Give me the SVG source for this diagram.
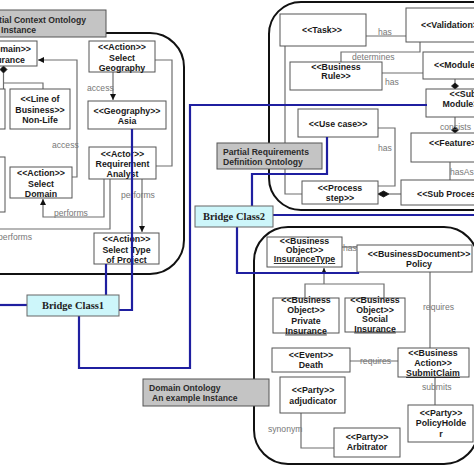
<svg xmlns="http://www.w3.org/2000/svg" width="474" height="474" viewBox="0 0 474 474">
<style>
.panel{fill:none;stroke:#111;stroke-width:2}
.plabel rect{fill:#c4c4c4;stroke:#555;stroke-width:1}
.plabel text{font-family:"Liberation Sans",Arial,sans-serif;font-weight:bold;font-size:8.6px;fill:#2a2a2a}
.node rect{fill:#fff;stroke:#555;stroke-width:1}
.node text{font-family:"Liberation Sans",Arial,sans-serif;font-weight:bold;font-size:8.8px;fill:#1a1a1a;text-anchor:middle}
.node text.s{text-anchor:start}
.node text.e{text-anchor:end}
.u{text-decoration:underline}
.conn path{fill:none;stroke:#6e6e6e;stroke-width:1.2}
.conn path.d{fill:#111;stroke:#111;stroke-width:0.8}
.lbl{font-family:"Liberation Sans",Arial,sans-serif;font-size:8.6px;fill:#777}
.blue path{fill:none;stroke:#1f1fa0;stroke-width:2.2}
.bridge rect{fill:#cdf6fa;stroke:#666;stroke-width:1}
.bridge text{font-family:"Liberation Serif","Times New Roman",serif;font-weight:bold;font-size:10.5px;fill:#222;text-anchor:middle}
</style>
<defs>
<marker id="arr" viewBox="0 0 6 6" refX="6" refY="3" markerWidth="6" markerHeight="6" orient="auto" markerUnits="userSpaceOnUse">
<path d="M0,0 L6,3 L0,6 Z" fill="#111"/>
</marker>
</defs>
<rect x="0" y="0" width="474" height="474" fill="#fff"/>

<g id="panels">
<rect class="panel" x="-40" y="33" width="224" height="241" rx="34"/>
<rect class="panel" x="269" y="2" width="240" height="208" rx="32"/>
<rect class="panel" x="254" y="227" width="224" height="237" rx="34"/>
</g>

<g id="connectors" class="conn">
<path d="M113,72 V100" marker-end="url(#arr)"/>
<path d="M155,60 H172 V166 H156"/>
<path d="M72,177 H77 V60 H38" marker-end="url(#arr)"/>
<path d="M104,179 V217 H43 V199" marker-end="url(#arr)"/>
<path d="M110,179 V229 H-5"/>
<path d="M142,179 V232" marker-end="url(#arr)"/>
<path d="M3.5,73 V89 M3.5,83 H43 V89"/>
<path class="d" d="M3.5,66 L7,69.5 L3.5,73 L0,69.5 Z"/>
<path d="M366,36 H406"/>
<path d="M420,42 V52 H341 V62"/>
<path d="M382,73 H423"/>
<path d="M455,79 V83"/>
<path class="d" d="M455,83 L458.5,86 L455,89 L451.5,86 Z"/>
<path d="M455,117 V127"/>
<path class="d" d="M455,127 L458.5,130 L455,133 L451.5,130 Z"/>
<path d="M450,162 V180"/>
<path d="M378,128 H395 V186 H378"/>
<path d="M285,46 V194 H302"/>
<path d="M401,194 H389"/>
<path class="d" d="M378,194 L383.5,191 L389,194 L383.5,197 Z"/>
<path d="M342,247 H357"/>
<path d="M324,284 V268" marker-end="url(#arr)"/>
<path d="M305,298 V284 H384 V298"/>
<path d="M430,272 V348"/>
<path d="M350,361 H398"/>
<path d="M435,377 V405"/>
<path d="M301,413 V448 H334"/>
</g>

<g id="ctx-domain" class="node"><rect x="-20" y="41" width="57" height="25"/><text class="e" x="31" y="52">&lt;&lt;Domain&gt;&gt;</text><text class="e" x="25" y="63">Insurance</text></g>
<g id="ctx-box1" class="node"><rect x="-20" y="89" width="25" height="40"/></g>
<g id="ctx-lob" class="node"><rect x="10" y="89" width="60" height="40"/><text x="40" y="102">&lt;&lt;Line of</text><text x="40" y="112.5">Business&gt;&gt;</text><text x="40" y="123">Non-Life</text></g>
<g id="ctx-selgeo" class="node"><rect x="89" y="41" width="66" height="31"/><text x="122" y="50">&lt;&lt;Action&gt;&gt;</text><text x="122" y="60.5">Select</text><text x="122" y="70.5">Geography</text></g>
<g id="ctx-asia" class="node"><rect x="88" y="101" width="78" height="28"/><text x="127" y="113.5">&lt;&lt;Geography&gt;&gt;</text><text x="127" y="124">Asia</text></g>
<g id="ctx-ra" class="node"><rect x="89" y="147" width="67" height="32"/><text x="122.5" y="157">&lt;&lt;Actor&gt;&gt;</text><text x="122.5" y="166.5">Requirement</text><text x="122.5" y="176.5">Analyst</text></g>
<g id="ctx-seldom" class="node"><rect x="10" y="167" width="62" height="31"/><text x="41" y="176">&lt;&lt;Action&gt;&gt;</text><text x="41" y="186.5">Select</text><text x="41" y="196.5">Domain</text></g>
<g id="ctx-box2" class="node"><rect x="-20" y="157" width="25" height="55"/></g>
<g id="ctx-seltype" class="node"><rect x="94" y="233" width="65" height="31"/><text x="126.5" y="242">&lt;&lt;Action&gt;&gt;</text><text x="126.5" y="252.5">Select Type</text><text x="126.5" y="263">of Project</text></g>

<g id="req-task" class="node"><rect x="280" y="14" width="86" height="32"/><text x="322" y="33">&lt;&lt;Task&gt;&gt;</text></g>
<g id="req-validation" class="node"><rect x="406" y="8" width="100" height="34"/><text class="s" x="421" y="28">&lt;&lt;Validation&gt;&gt;</text></g>
<g id="req-brule" class="node"><rect x="290" y="62" width="92" height="28"/><text x="336" y="69.5">&lt;&lt;Business</text><text x="336" y="79">Rule&gt;&gt;</text></g>
<g id="req-module" class="node"><rect x="423" y="52" width="90" height="27"/><text class="s" x="434" y="68">&lt;&lt;Module&gt;&gt;</text></g>
<g id="req-submodule" class="node"><rect x="426" y="89" width="80" height="28"/><text x="463" y="96.5">&lt;&lt;Sub</text><text x="463" y="107">Module&gt;&gt;</text></g>
<g id="req-feature" class="node"><rect x="411" y="133" width="90" height="29"/><text class="s" x="429" y="146">&lt;&lt;Feature&gt;&gt;</text></g>
<g id="req-usecase" class="node"><rect x="298" y="109" width="80" height="28"/><text x="338" y="127">&lt;&lt;Use case&gt;&gt;</text></g>
<g id="req-process" class="node"><rect x="302" y="181" width="76" height="23"/><text x="340" y="190.5">&lt;&lt;Process</text><text x="340" y="201">step&gt;&gt;</text></g>
<g id="req-subprocess" class="node"><rect x="401" y="180" width="110" height="25"/><text class="s" x="417" y="197">&lt;&lt;Sub Process&gt;&gt;</text></g>

<g id="dom-instype" class="node"><rect x="267" y="237" width="75" height="30"/><text x="304.5" y="244">&lt;&lt;Business</text><text x="304.5" y="253">Object&gt;&gt;</text><text class="u" x="304.5" y="262">InsuranceType</text></g>
<g id="dom-policy" class="node"><rect x="357" y="245" width="115" height="27"/><text x="419" y="257">&lt;&lt;BusinessDocument&gt;&gt;</text><text x="419" y="267">Policy</text></g>
<g id="dom-private" class="node"><rect x="273" y="298" width="66" height="35"/><text x="306" y="303">&lt;&lt;Business</text><text x="306" y="313">Object&gt;&gt;</text><text x="306" y="323.5">Private</text><text class="u" x="306" y="333.5">Insurance</text></g>
<g id="dom-social" class="node"><rect x="345" y="298" width="60" height="34"/><text x="375" y="303">&lt;&lt;Business</text><text x="375" y="312.5">Object&gt;&gt;</text><text x="375" y="322">Social</text><text class="u" x="375" y="331.5">Insurance</text></g>
<g id="dom-death" class="node"><rect x="272" y="348" width="78" height="24"/><text x="311" y="358">&lt;&lt;Event&gt;&gt;</text><text x="311" y="368">Death</text></g>
<g id="dom-submit" class="node"><rect x="398" y="348" width="71" height="29"/><text x="433" y="356">&lt;&lt;Business</text><text x="433" y="366">Action&gt;&gt;</text><text class="u" x="433" y="376">SubmitClaim</text></g>
<g id="dom-adjudicator" class="node"><rect x="280" y="377" width="65" height="36"/><text x="313" y="393">&lt;&lt;Party&gt;&gt;</text><text x="313" y="403.5">adjudicator</text></g>
<g id="dom-policyholder" class="node"><rect x="408" y="405" width="65" height="37"/><text x="441" y="416">&lt;&lt;Party&gt;&gt;</text><text x="441" y="426">PolicyHolde</text><text x="441" y="437">r</text></g>
<g id="dom-arbitrator" class="node"><rect x="334" y="428" width="66" height="29"/><text x="367" y="440">&lt;&lt;Party&gt;&gt;</text><text x="367" y="450">Arbitrator</text></g>

<g id="labels">
<text class="lbl" x="87" y="91">access</text>
<text class="lbl" x="52" y="148">access</text>
<text class="lbl" x="54" y="216">performs</text>
<text class="lbl" x="32" y="240" text-anchor="end">performs</text>
<text class="lbl" x="121" y="198">performs</text>
<text class="lbl" x="378" y="35">has</text>
<text class="lbl" x="352" y="60">determines</text>
<text class="lbl" x="385" y="85">has</text>
<text class="lbl" x="440" y="130">consists</text>
<text class="lbl" x="450" y="175">hasAs</text>
<text class="lbl" x="378" y="151">has</text>
<text class="lbl" x="343" y="251">has</text>
<text class="lbl" x="423" y="310">requires</text>
<text class="lbl" x="360" y="364">requires</text>
<text class="lbl" x="422" y="390">submits</text>
<text class="lbl" x="268" y="432">synonym</text>
</g>

<g id="blue-links" class="blue">
<path d="M132,129 V310 H119"/>
<path d="M106,264 V295"/>
<path d="M-5,305 H27"/>
<path d="M79,316 V368 H190 V105 H427"/>
<path d="M252,206 V174 H327 V137"/>
<path d="M273,215 H480"/>
<path d="M237,227 V273 H358 V272"/>
</g>

<g id="label-context" class="plabel"><rect x="-20" y="10" width="126" height="27"/><text x="86" y="23" text-anchor="end">Partial Context Ontology</text><text x="36" y="33" text-anchor="end">An Instance</text></g>
<g id="label-requirements" class="plabel"><rect x="217" y="143" width="105" height="26"/><text x="223" y="155">Partial Requirements</text><text x="223" y="165">Definition Ontology</text></g>
<g id="label-domain" class="plabel"><rect x="143" y="379" width="126" height="27"/><text x="149" y="390.5">Domain Ontology</text><text x="152" y="400.5">An example Instance</text></g>

<g id="bridge1" class="bridge"><rect x="27" y="295" width="92" height="21"/><text x="73" y="309">Bridge Class1</text></g>
<g id="bridge2" class="bridge"><rect x="195" y="206" width="78" height="21"/><text x="234" y="220">Bridge Class2</text></g>
</svg>
